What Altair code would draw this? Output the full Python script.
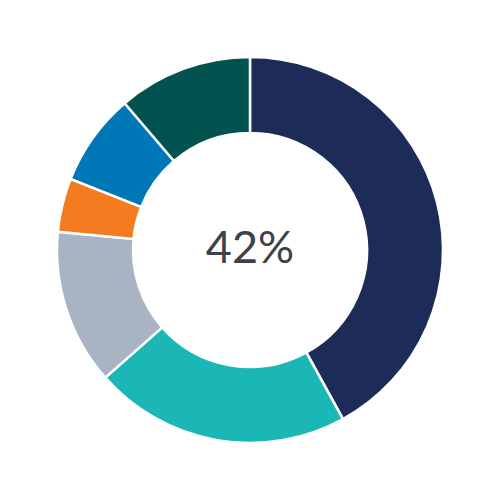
import altair as alt
import pandas as pd

categories = ["A", "B", "C", "D", "E", "F"]
values = [42, 21.5, 13, 4.5, 7.75, 11.25]
colors = ["#1d2b59", "#1bb6b6", "#a8b4c4", "#f47b20", "#0077b6", "#02524f"]
center_label = ["42%"]

df = pd.DataFrame({"cat": categories, "value": values, "order": list(range(len(values)))})
lab = pd.DataFrame({"label": center_label})

arc = alt.Chart(df).mark_arc(innerRadius=117, outerRadius=193, stroke="white", strokeWidth=2.5).encode(
    theta=alt.Theta("value:Q", stack=True),
    order=alt.Order("order:Q"),
    color=alt.Color("cat:N", scale=alt.Scale(domain=categories, range=colors), legend=None),
)

text = alt.Chart(lab).mark_text(font="Lato", fontSize=45, color="#3d4148", baseline="alphabetic", align="center").encode(
    x=alt.value(242), y=alt.value(255), text="label:N"
)

chart = alt.layer(arc, text).properties(width=484, height=484, padding=0, autosize="none").configure_view(stroke=None)
chart.save("out.html", embed_options={"renderer": "svg", "actions": False})
